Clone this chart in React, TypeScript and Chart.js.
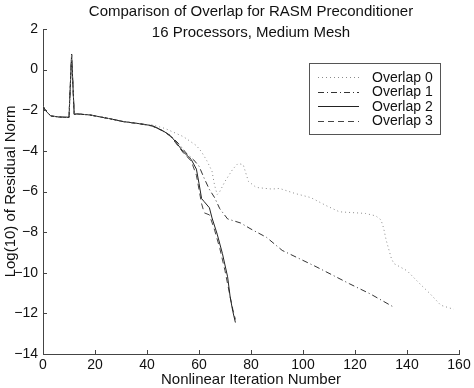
import React, { useEffect, useRef } from "react";
import { Chart, registerables } from "chart.js";

Chart.register(...registerables);

const titleLines = ["Comparison of Overlap for RASM Preconditioner", "16 Processors, Medium Mesh"];
const xAxisTitle = "Nonlinear Iteration Number";
const yAxisTitle = "Log(10) of Residual Norm";
const seriesNames = ["Overlap 0", "Overlap 1", "Overlap 2", "Overlap 3"];

// shared start of every run (iterations 0..37)
const commonIter = [0, 1, 3, 6, 10, 11, 12, 13, 18, 25, 31, 37];
const commonLog = [-1.8, -2.02, -2.28, -2.33, -2.35, 0.75, -2.2, -2.18, -2.23, -2.4, -2.56, -2.66];

const overlap0Iter = [42, 47, 54, 59, 61, 63, 65, 66, 67, 68, 70, 73, 75, 77, 79, 82, 88, 91, 97, 103, 109, 114, 124, 128, 130, 131, 132, 134, 135, 140, 145, 149, 153, 158];
const overlap0Log = [-2.72, -2.9, -3.3, -3.74, -4.05, -4.48, -5.0, -5.7, -6.15, -6.0, -5.5, -4.9, -4.62, -4.68, -5.5, -5.8, -5.88, -5.85, -6.1, -6.3, -6.7, -7.0, -7.08, -7.2, -7.4, -7.8, -8.4, -9.3, -9.55, -9.9, -10.55, -11.05, -11.6, -11.8];

const overlap1Iter = [42, 46, 49, 52, 55, 58, 60, 62, 64, 66, 68, 71, 76, 80, 86, 92, 105, 118, 126, 135];
const overlap1Log = [-2.76, -3.0, -3.25, -3.62, -4.1, -4.45, -4.75, -5.35, -5.9, -6.3, -6.85, -7.35, -7.55, -7.85, -8.26, -8.9, -9.7, -10.55, -11.05, -11.7];

const overlap2Iter = [42, 46, 49, 51, 54, 57, 59, 60, 61, 62, 64, 65, 67, 69, 71, 72, 73, 74];
const overlap2Log = [-2.76, -3.0, -3.25, -3.55, -4.05, -4.42, -4.9, -5.6, -6.35, -6.5, -6.8, -7.3, -8.1, -9.05, -10.2, -11.2, -11.9, -12.45];

const overlap3Iter = [42, 46, 49, 51, 54, 57, 59, 60, 61, 62, 64, 66, 68, 70, 72, 73, 74];
const overlap3Log = [-2.78, -3.02, -3.28, -3.6, -4.1, -4.5, -5.2, -5.9, -6.6, -7.05, -7.15, -7.9, -8.8, -9.9, -11.2, -11.8, -12.3];

const xMin = 0, xMax = 160, xStep = 20;
const yMin = -14, yMax = 2, yStep = 2;

function toPoints(iters: number[], vals: number[]) {
  const xs = commonIter.concat(iters);
  const ys = commonLog.concat(vals);
  return xs.map((x, i) => ({ x, y: ys[i] }));
}

const fmt = (v: number) => String(v).replace("-", "\u2212");

const overlayPlugin = {
  id: "overlay",
  afterDatasetsDraw(chart: any) {
    const { ctx, chartArea, scales } = chart;
    const xs = scales.x;
    const ys = scales.y;
    ctx.save();
    // inward ticks
    ctx.strokeStyle = "#444";
    ctx.lineWidth = 1;
    ctx.setLineDash([]);
    xs.ticks.forEach((t: any) => {
      const px = Math.round(xs.getPixelForValue(t.value)) + 0.5;
      ctx.beginPath();
      ctx.moveTo(px, chartArea.bottom);
      ctx.lineTo(px, chartArea.bottom - 4);
      ctx.stroke();
    });
    ys.ticks.forEach((t: any) => {
      const py = Math.round(ys.getPixelForValue(t.value)) + 0.5;
      ctx.beginPath();
      ctx.moveTo(chartArea.left, py);
      ctx.lineTo(chartArea.left + 4, py);
      ctx.stroke();
    });

    // titles
    const cx = (chartArea.left + chartArea.right) / 2;
    ctx.fillStyle = "#111";
    ctx.font = "15px 'Liberation Sans', Arial, sans-serif";
    ctx.textAlign = "center";
    ctx.textBaseline = "middle";
    ctx.fillText(titleLines[0], cx, 12);
    ctx.fillText(titleLines[1], cx, 33);
    ctx.fillText(xAxisTitle, cx, 380);
    ctx.save();
    ctx.translate(11, (chartArea.top + chartArea.bottom) / 2);
    ctx.rotate(-Math.PI / 2);
    ctx.fillText(yAxisTitle, 0, 0);
    ctx.restore();

    // legend
    const bx = 309, by = 63, bw = 131, bh = 71;
    ctx.fillStyle = "#fff";
    ctx.fillRect(bx, by, bw, bh);
    ctx.strokeStyle = "#555";
    ctx.lineWidth = 1;
    ctx.strokeRect(bx + 0.5, by + 0.5, bw, bh);
    chart.data.datasets.forEach((ds: any, i: number) => {
      const yy = by + 14 + i * 14.5;
      ctx.strokeStyle = ds.borderColor;
      ctx.lineWidth = ds.borderWidth;
      ctx.setLineDash(ds.borderDash || []);
      ctx.beginPath();
      ctx.moveTo(bx + 9, Math.round(yy) + 0.5);
      ctx.lineTo(bx + 50, Math.round(yy) + 0.5);
      ctx.stroke();
      ctx.setLineDash([]);
      ctx.fillStyle = "#111";
      ctx.font = "14px 'Liberation Sans', Arial, sans-serif";
      ctx.textAlign = "left";
      ctx.textBaseline = "middle";
      ctx.fillText(ds.label, bx + 63, yy + 1);
    });
    ctx.restore();
  },
};

export default function App() {
  const ref = useRef<HTMLCanvasElement | null>(null);
  useEffect(() => {
    if (!ref.current) return;
    const styles = [
      { color: "#8a8a8a", dash: [1, 3] },
      { color: "#333", dash: [6, 3, 1, 3] },
      { color: "#222", dash: [] as number[] },
      { color: "#444", dash: [6, 4] },
    ];
    const allIters = [overlap0Iter, overlap1Iter, overlap2Iter, overlap3Iter];
    const allLogs = [overlap0Log, overlap1Log, overlap2Log, overlap3Log];
    const chart = new Chart(ref.current, {
      type: "line",
      data: {
        datasets: seriesNames.map((name, i) => ({
          label: name,
          data: toPoints(allIters[i], allLogs[i]),
          borderColor: styles[i].color,
          borderWidth: 1,
          borderDash: styles[i].dash,
          pointRadius: 0,
          fill: false,
          tension: 0,
        })),
      },
      options: {
        animation: false,
        responsive: false,
        layout: { padding: { top: 29, right: 15, left: 0, bottom: 0 } },
        plugins: { legend: { display: false }, tooltip: { enabled: false }, title: { display: false } },
        scales: {
          x: {
            type: "linear",
            min: xMin,
            max: xMax,
            ticks: {
              stepSize: xStep,
              color: "#111",
              padding: 3,
              font: { size: 14, family: "'Liberation Sans', Arial, sans-serif" },
              maxRotation: 0,
              callback: (v: any) => fmt(Number(v)),
            },
            grid: { display: true, drawOnChartArea: false, drawTicks: false },
            border: { display: true, color: "#444", width: 1 },
            afterFit: (s: any) => { s.height = 34; },
          },
          y: {
            type: "linear",
            min: yMin,
            max: yMax,
            ticks: {
              stepSize: yStep,
              color: "#111",
              padding: 5,
              font: { size: 14, family: "'Liberation Sans', Arial, sans-serif" },
              callback: (v: any) => fmt(Number(v)),
            },
            grid: { display: true, drawOnChartArea: false, drawTicks: false },
            border: { display: true, color: "#444", width: 1 },
            afterFit: (s: any) => { s.width = 43; },
          },
        },
      },
      plugins: [overlayPlugin],
    });
    return () => chart.destroy();
  }, []);
  return (
    <div style={{ position: "absolute", left: 0, top: 0, width: 474, height: 388, background: "#fff" }}>
      <canvas ref={ref} width={474} height={388} style={{ display: "block" }} />
    </div>
  );
}
